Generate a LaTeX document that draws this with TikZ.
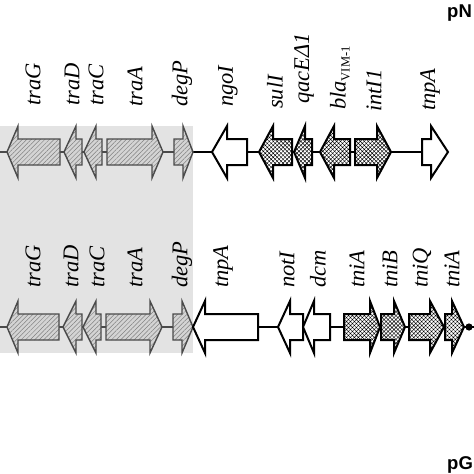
\documentclass[tikz,border=0pt]{standalone}
\usepackage{fontspec}
\setmainfont{Liberation Serif}
\newfontfamily\hdfont{Liberation Sans}
\usetikzlibrary{patterns.meta}
\definecolor{bgray}{HTML}{E3E3E3}
\definecolor{hgray}{HTML}{D4D4D4}
\definecolor{egray}{HTML}{4A4A4A}
\newcommand{\genR}[5]{\path[#1] (#2,{#5-13}) -- (#3,{#5-13}) -- (#3,{#5-26}) -- (#4,#5) -- (#3,{#5+26}) -- (#3,{#5+13}) -- (#2,{#5+13}) -- cycle;}
\newcommand{\genL}[5]{\path[#1] (#4,{#5-13}) -- (#3,{#5-13}) -- (#3,{#5-26}) -- (#2,#5) -- (#3,{#5+26}) -- (#3,{#5+13}) -- (#4,{#5+13}) -- cycle;}
\tikzset{
  hatchgene/.style={draw=egray, line width=1.4pt, line join=miter, preaction={fill=hgray}, pattern={Lines[angle=45,distance=3.2pt,line width=0.5pt]}, pattern color=gray},
  meshgene/.style={draw=black, line width=2pt, line join=miter, preaction={fill=white}, pattern={Hatch[angle=45,distance=2.8pt,line width=0.45pt]}, pattern color=black},
  whitegene/.style={draw=black, line width=2pt, line join=miter, fill=white},
  glabel/.style={rotate=90, anchor=west, inner sep=0pt, font=\fontsize{22.5}{24}\selectfont\itshape},
  grayline/.style={draw=egray, line width=1.4pt},
  blackline/.style={draw=black, line width=2pt},
  plasmid/.style={anchor=base west, inner sep=0pt, font=\hdfont\fontsize{18.5}{19}\selectfont\bfseries}
}
\begin{document}
\begin{tikzpicture}[x=1pt,y=-1pt]
\useasboundingbox (0,0) rectangle (474,474);
\clip (0,0) rectangle (474,474);
\fill[bgray] (0,126) rectangle (193,353);
% titles
\node[plasmid] (pn) at (447,17) {pN};
\node[plasmid] (pg) at (447,469) {pG};
% ---------- top row ----------
\coordinate (t0) at (0,152);
\coordinate (t1) at (193,152);
\coordinate (t2) at (422,152);
\draw[grayline] (t0) -- (t1);
\draw[blackline] (t1) -- (t2);
\genL{hatchgene}{7}{18}{60}{152}
\genL{hatchgene}{64}{76}{82}{152}
\genL{hatchgene}{84}{96}{102}{152}
\genR{hatchgene}{107}{152}{163}{152}
\genR{hatchgene}{174}{183}{193}{152}
\genL{whitegene}{212}{227}{247}{152}
\genL{meshgene}{259}{273}{292}{152}
\genL{meshgene}{294}{305}{312}{152}
\genL{meshgene}{320}{334}{350}{152}
\genR{meshgene}{355}{377}{391}{152}
\genR{whitegene}{422}{431}{448}{152}
\node[glabel] (lt1) at (33,106) {traG};
\node[glabel] (lt2) at (72,106) {traD};
\node[glabel] (lt3) at (96,106) {traC};
\node[glabel] (lt4) at (135,107) {traA};
\node[glabel] (lt5) at (182,107) {degP};
\node[glabel] (lt6) at (228,107) {ngoI};
\node[glabel] (lt7) at (275,109) {sulI};
\node[glabel] (lt8) at (304,104) {qacEΔ1};
\node[glabel] (lt9) at (340,110) {bla\raisebox{-4pt}{\fontsize{12.5}{13}\selectfont\upshape VIM-1}};
\node[glabel] (lt10) at (374,112) {intI1};
\node[glabel] (lt11) at (430,111) {tnpA};
% ---------- bottom row ----------
\coordinate (b0) at (0,327);
\coordinate (b1) at (193,327);
\coordinate (b2) at (474,327);
\draw[grayline] (b0) -- (b1);
\draw[blackline] (b1) -- (b2);
\genL{hatchgene}{7}{18}{59}{327}
\genL{hatchgene}{63}{76}{82}{327}
\genL{hatchgene}{83}{96}{101}{327}
\genR{hatchgene}{106}{150}{162}{327}
\genR{hatchgene}{173}{182}{193}{327}
\genL{whitegene}{193}{205}{258}{327}
\genL{whitegene}{278}{290}{303}{327}
\genL{whitegene}{303}{314}{330}{327}
\genR{meshgene}{344}{370}{380}{327}
\genR{meshgene}{381}{394}{405}{327}
\genR{meshgene}{409}{430}{444}{327}
\genR{meshgene}{445}{452}{464}{327}
\fill[black] (469,327) circle (3.6);
\node[glabel] (lb1) at (33,288) {traG};
\node[glabel] (lb2) at (71,288) {traD};
\node[glabel] (lb3) at (97,288) {traC};
\node[glabel] (lb4) at (135,288) {traA};
\node[glabel] (lb5) at (182,288) {degP};
\node[glabel] (lb6) at (223,288) {tnpA};
\node[glabel] (lb7) at (287,288) {notI};
\node[glabel] (lb8) at (318,288) {dcm};
\node[glabel] (lb9) at (357,288) {tniA};
\node[glabel] (lb10) at (390,288) {tniB};
\node[glabel] (lb11) at (422,288) {tniQ};
\node[glabel] (lb12) at (452,288) {tniA};
\end{tikzpicture}
\end{document}
